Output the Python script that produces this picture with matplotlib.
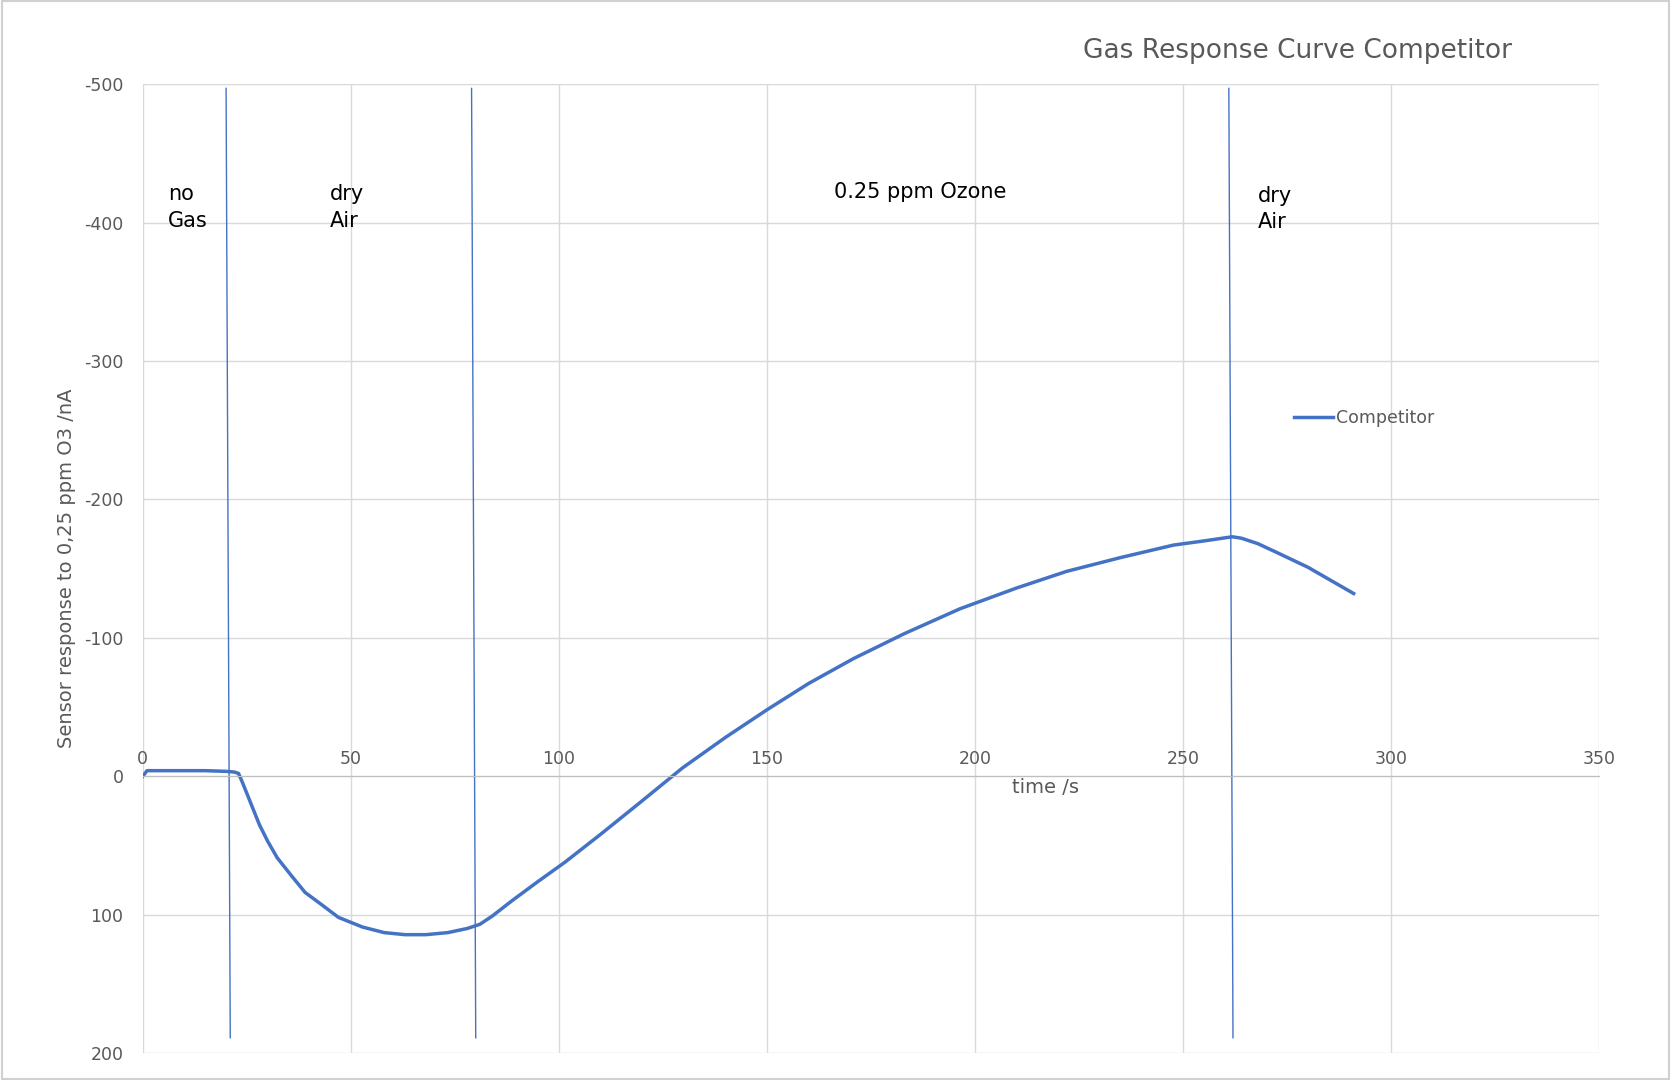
import matplotlib
matplotlib.use("Agg")
import matplotlib.pyplot as plt
import matplotlib.patches as mpatches

plt.rcParams["axes.unicode_minus"] = False

# Competitor sensor response
time_s = [0, 0.5, 1, 5, 10, 15, 20, 22, 23, 24, 26, 28, 30, 32.3, 36, 39, 42.6, 47, 52.8, 58, 63, 68,
          73.3, 78, 81, 84, 88.7, 95, 101.5, 110, 119.5, 129.7, 140, 150, 160, 170.8, 183,
          196.4, 210, 222, 235, 247.7, 255, 261.8, 264, 268, 273, 280, 291]
response = [0, -2, -4, -4, -4, -4, -3.5, -3, -2, 5, 20, 35, 47, 59, 73, 84, 92, 102, 109, 113, 114.5, 114.5,
            113, 110, 107, 101, 90, 76, 62, 42, 19, -6, -28, -48, -67, -85, -103,
            -121, -136, -148, -158, -167, -170, -173, -172, -168, -161, -151, -132]

# phase boundary lines (slightly slanted as drawn)
boundary_x0 = [20, 79, 261]
boundary_x1 = [21, 80, 262]
boundary_y0 = -497
boundary_y1 = 189

phase_labels = ["no\nGas", "dry\nAir", "0.25 ppm Ozone", "dry\nAir"]
phase_x = [6, 45, 166, 268]
phase_y = [-411, -411, -422, -410]

fig = plt.figure(figsize=(16.71, 10.80), dpi=100)
ax = fig.add_axes([0.0855, 0.025, 0.8715, 0.897])
fig.patches.append(mpatches.Rectangle((0.001, 0.001), 0.998, 0.998, transform=fig.transFigure,
                                      fill=False, edgecolor="#d0d0d0", linewidth=1.5))

ax.plot(time_s, response, color="#4472c4", linewidth=2.5, label="Competitor")
for xa, xb in zip(boundary_x0, boundary_x1):
    ax.plot([xa, xb], [boundary_y0, boundary_y1], color="#4472c4", linewidth=1)

for lab, xx, yy in zip(phase_labels, phase_x, phase_y):
    ax.text(xx, yy, lab, fontsize=15, ha="left", va="center", linespacing=1.4, color="black")

ax.set_xlim(0, 350)
ax.set_ylim(200, -500)
ax.set_xticks(range(0, 351, 50))
ax.set_yticks(range(-500, 201, 100))
ax.grid(True, color="#d9d9d9", linewidth=1)
ax.set_axisbelow(True)

for s in ["left", "right", "bottom"]:
    ax.spines[s].set_visible(False)
ax.spines["top"].set_position(("data", 0))
ax.spines["top"].set_color("#bfbfbf")
ax.xaxis.set_ticks_position("top")
ax.tick_params(axis="both", length=0, labelsize=12.5, labelcolor="#595959")
ax.tick_params(axis="x", pad=6)
ax.tick_params(axis="y", pad=14)

ax.text(217, 8, "time /s", fontsize=14, color="#595959", ha="center", va="center")
ax.set_ylabel("Sensor response to 0,25 ppm O3 /nA", fontsize=14, color="#595959", labelpad=6)
fig.text(0.905, 0.953, "Gas Response Curve Competitor", fontsize=19, color="#595959",
         ha="right", va="center")

ax.legend(loc="center left", bbox_to_anchor=(0.78, 0.655), frameon=False, fontsize=12.5,
          labelcolor="#595959", handlelength=2.2, handletextpad=0.2)

fig.savefig("out.png", dpi=100)
